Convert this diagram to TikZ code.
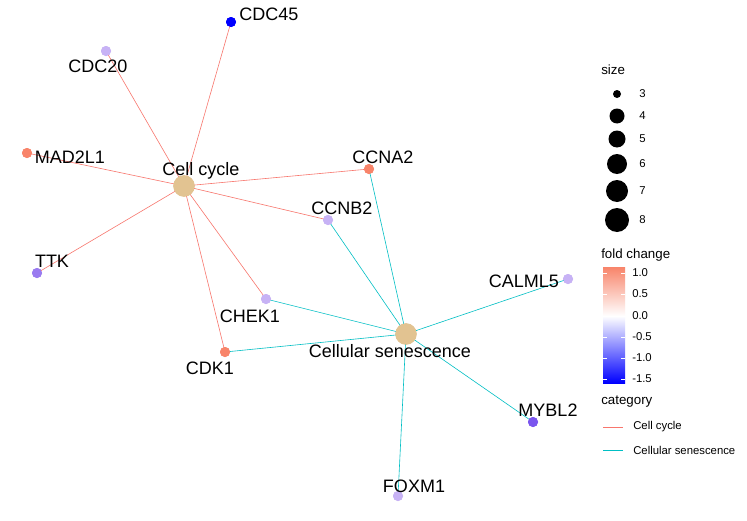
\documentclass[tikz,border=0pt]{standalone}
\usepackage{fontspec}
\setmainfont{Liberation Sans}
\begin{document}
\begin{tikzpicture}[x=0.75pt,y=-0.75pt,
 gene/.style={circle,inner sep=0pt,minimum size=7.5pt},
 hub/.style={circle,inner sep=0pt,minimum size=16pt,fill=hubc},
 lab/.style={font=\fontsize{13.5}{15}\selectfont,inner sep=0pt},
 leg/.style={font=\fontsize{8.5}{10}\selectfont,inner sep=0pt,anchor=west},
 legt/.style={font=\fontsize{10}{12}\selectfont,inner sep=0pt,anchor=west},
 cc/.style={draw=ccc,line width=0.45pt},
 cs/.style={draw=csc,line width=0.45pt},
 dot/.style={circle,fill=black,inner sep=0pt}]
\definecolor{hubc}{HTML}{E2C391}
\definecolor{ccc}{HTML}{F8766D}
\definecolor{csc}{HTML}{00BFC4}
\definecolor{up}{HTML}{F8846A}
\definecolor{lp}{HTML}{C7B2F5}
\definecolor{mp}{HTML}{9A7BF0}
\definecolor{dp}{HTML}{7A55EE}
\useasboundingbox (0,0) rectangle (747,521);
\fill[white] (0,0) rectangle (747,521);
\node[hub] (cc) at (184,186) {};
\node[hub] (cs) at (406,334) {};
\node[gene,fill=blue] (cdc45) at (231,22) {};
\node[gene,fill=lp] (cdc20) at (106,51) {};
\node[gene,fill=up] (mad) at (27,153) {};
\node[gene,fill=up] (ccna2) at (369,169) {};
\node[gene,fill=lp] (ccnb2) at (328,220) {};
\node[gene,fill=mp] (ttk) at (37,273) {};
\node[gene,fill=lp] (calml5) at (568,279) {};
\node[gene,fill=lp] (chek1) at (266,299) {};
\node[gene,fill=up] (cdk1) at (225,352) {};
\node[gene,fill=dp] (mybl2) at (533,422) {};
\node[gene,fill=lp] (foxm1) at (398,496) {};
\foreach \g in {cdc45,cdc20,mad,ccna2,ccnb2,ttk,chek1,cdk1}{\path[cc] (cc.center) -- (\g.center);}
\foreach \g in {ccna2,ccnb2,calml5,chek1,cdk1,mybl2,foxm1}{\path[cs] (cs.center) -- (\g.center);}
\fill[hubc] (cc.center) circle (8pt);
\fill[hubc] (cs.center) circle (8pt);
\foreach \g/\c in {cdc45/blue,cdc20/lp,mad/up,ccna2/up,ccnb2/lp,ttk/mp,calml5/lp,chek1/lp,cdk1/up,mybl2/dp,foxm1/lp}{\fill[\c] (\g.center) circle (3.75pt);}
\node[lab] (l1) at (269,14) {CDC45};
\node[lab] (l2) at (98,66) {CDC20};
\node[lab] (l3) at (70,157) {MAD2L1};
\node[lab] (l4) at (383,157) {CCNA2};
\node[lab] (l5) at (342,208) {CCNB2};
\node[lab] (l6) at (52,261) {TTK};
\node[lab] (l7) at (524,281) {CALML5};
\node[lab] (l8) at (250,316) {CHEK1};
\node[lab] (l9) at (210,368) {CDK1};
\node[lab] (l10) at (548,410) {MYBL2};
\node[lab] (l11) at (414,486) {FOXM1};
\node[lab] (l12) at (201,171) {Cell cycle};
\node[lab] (l13) at (390,351) {Cellular senescence};
% legend
\node[legt] (ts) at (601,70) {size};
\foreach \y/\r/\n in {94/4/3,116/7.5/4,139/8.5/5,164/10/6,191/11/7,220/12/8}{
 \node[dot,minimum size=\r*1.5pt] (s\n) at (617,\y) {};
 \node[leg] (sl\n) at (639,\y) {\n};}
\node[legt] (tf) at (601,255) {fold change};
\shade[top color=up,bottom color=white] (603,267) rectangle (625,316);
\shade[top color=white,bottom color=blue] (603,316) rectangle (625,383);
\foreach \y/\t in {273/1.0,294/0.5,316/0.0,337/-0.5,358/-1.0,379/-1.5}{
 \draw[white] (603,\y) -- (607,\y) (621,\y) -- (625,\y);
 \node[leg] at (632,\y) {\t};}
\node[legt] (tc) at (601,402) {category};
\coordinate (a1) at (603,427); \coordinate (a2) at (623,427);
\coordinate (b1) at (603,450); \coordinate (b2) at (623,450);
\draw[ccc] (a1) -- (a2); \draw[csc] (b1) -- (b2);
\node[leg] at (633,427) {Cell cycle};
\node[leg] at (633,450) {Cellular senescence};
\end{tikzpicture}
\end{document}
